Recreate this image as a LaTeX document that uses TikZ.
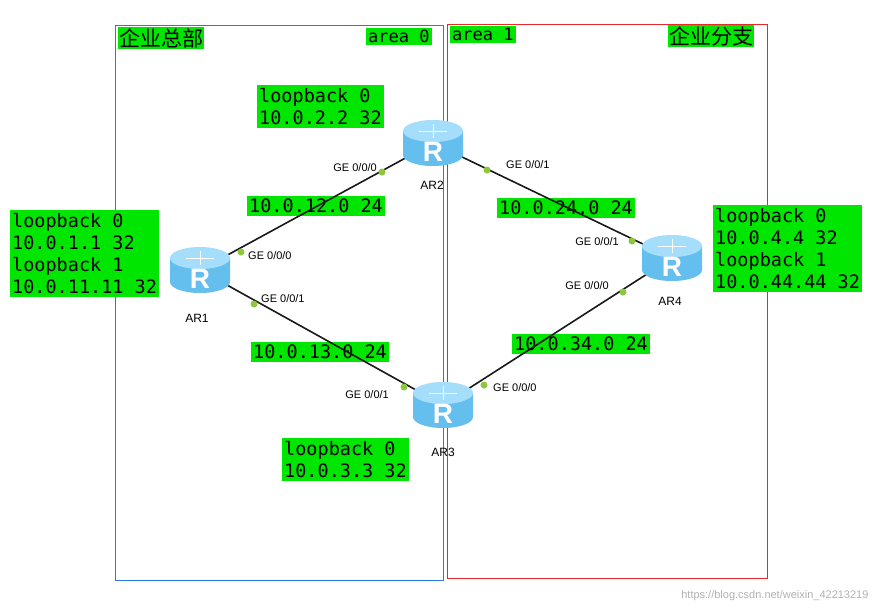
\documentclass[tikz,border=0pt]{standalone}
\usepackage{fontspec}
\setmainfont{Liberation Sans}
\newfontfamily\monof{DejaVu Sans Mono}
\newfontfamily\cjk{Noto Sans CJK SC}
\definecolor{lgreen}{RGB}{0,230,0}
\definecolor{bluearea}{RGB}{40,120,230}
\definecolor{redarea}{RGB}{230,40,40}
\definecolor{dotc}{RGB}{140,200,60}
\definecolor{rbody}{RGB}{100,190,238}
\definecolor{rtop}{RGB}{165,222,250}
\begin{document}
\begin{tikzpicture}[x=1pt,y=-1pt,
  gl/.style={fill=lgreen,font=\monof\fontsize{18.5}{22}\selectfont,inner xsep=2pt,inner ysep=3pt,align=left,anchor=north west},
  cl/.style={fill=lgreen,font=\cjk\fontsize{21}{22}\selectfont,inner sep=1pt,anchor=north west},
  ifl/.style={font=\fontsize{11}{12}\selectfont,inner sep=1pt},
  dot/.style={circle,fill=dotc,inner sep=0pt,minimum size=7pt},
  link/.style={line width=1.6pt,black!90},
  rt/.style={circle,minimum size=58pt,inner sep=0pt},
  rlab/.style={font=\fontsize{12}{14}\selectfont}]
\useasboundingbox (0,0) rectangle (880,614);
\fill[white] (0,0) rectangle (880,614);
\tikzset{pics/router/.style={code={
  \fill[rbody] (-30,-12) -- (-30,12) arc[start angle=180,end angle=0,x radius=30,y radius=11] -- (30,-12) -- cycle;
  \fill[rtop] (0,-12) ellipse[x radius=30,y radius=11];
  \draw[white,line width=0.8pt] (-14,-12)--(14,-12) (0,-19)--(0,-5);
  \node[white,font=\bfseries\fontsize{28}{28}\selectfont] at (0,9) {R};
}}}
% areas
\draw[line width=1pt,bluearea] (115,25) rectangle (443,580);
\draw[line width=1pt,redarea] (447,24) rectangle (767,578);
\node[cl] (hq) at (118,27) {企业总部};
\node[gl,font=\monof\fontsize{17}{20}\selectfont,inner ysep=2pt] (a0) at (366,28) {area 0};
\node[gl,font=\monof\fontsize{17}{20}\selectfont,inner ysep=2pt] (a1) at (450,26) {area 1};
\node[cl] (br) at (668,25) {企业分支};
% loopbacks
\node[gl] (lb2) at (257,85) {loopback 0\\10.0.2.2 32};
\node[gl] (lb1) at (10,210) {loopback 0\\10.0.1.1 32\\loopback 1\\10.0.11.11 32};
\node[gl] (lb4) at (713,205) {loopback 0\\10.0.4.4 32\\loopback 1\\10.0.44.44 32};
\node[gl] (lb3) at (282,438) {loopback 0\\10.0.3.3 32};
% subnets
\node[gl] (n12) at (247,196) {10.0.12.0 24};
\node[gl] (n24) at (497,198) {10.0.24.0 24};
\node[gl] (n13) at (251,342) {10.0.13.0 24};
\node[gl] (n34) at (512,334) {10.0.34.0 24};
% routers
\node[rt] (r1) at (200,270) {};
\node[rt] (r2) at (433,143) {};
\node[rt] (r3) at (443,405) {};
\node[rt] (r4) at (672,258) {};
\draw[link] (r1) -- (r2);
\draw[link] (r2) -- (r4);
\draw[link] (r1) -- (r3);
\draw[link] (r3) -- (r4);
\pic at (r1) {router};
\pic at (r2) {router};
\pic at (r3) {router};
\pic at (r4) {router};
\node[rlab] (l1) at (197,318) {AR1};
\node[rlab] (l2) at (432,185) {AR2};
\node[rlab] (l3) at (443,452) {AR3};
\node[rlab] (l4) at (670,301) {AR4};
% interface dots
\node[dot] (d12a) at (241,252) {};
\node[dot] (d12b) at (382,172) {};
\node[dot] (d24a) at (487,170) {};
\node[dot] (d24b) at (632,241) {};
\node[dot] (d13a) at (254,304) {};
\node[dot] (d13b) at (404,387) {};
\node[dot] (d34a) at (484,385) {};
\node[dot] (d34b) at (623,292) {};
\node[ifl,anchor=west] (i1) at (247,256) {GE 0/0/0};
\node[ifl,anchor=west] (i2) at (260,299) {GE 0/0/1};
\node[ifl,anchor=east] (i3) at (378,168) {GE 0/0/0};
\node[ifl,anchor=west] (i4) at (505,165) {GE 0/0/1};
\node[ifl,anchor=east] (i5) at (620,242) {GE 0/0/1};
\node[ifl,anchor=east] (i6) at (610,286) {GE 0/0/0};
\node[ifl,anchor=east] (i7) at (390,395) {GE 0/0/1};
\node[ifl,anchor=west] (i8) at (492,388) {GE 0/0/0};
\node[font=\fontsize{11}{12}\selectfont,text=black!30,anchor=east] (wm) at (872,596) {https://blog.csdn.net/weixin\_42213219};
\end{tikzpicture}
\end{document}
